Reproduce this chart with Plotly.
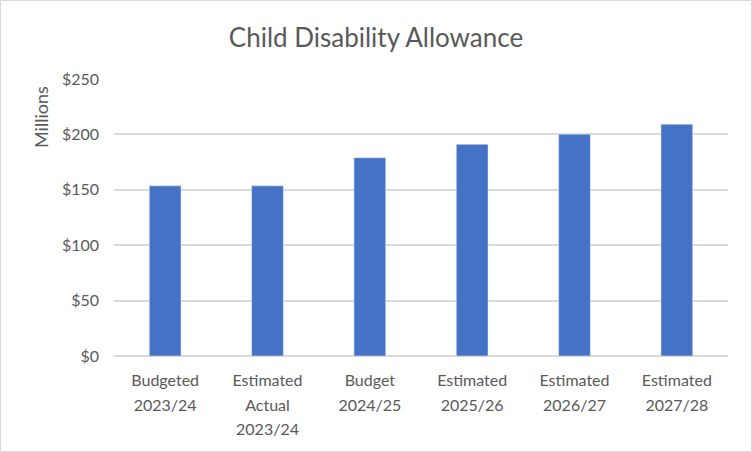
import plotly.graph_objects as go

label_lines = [["Budgeted", "2023/24"], ["Estimated", "Actual", "2023/24"], ["Budget", "2024/25"],
               ["Estimated", "2025/26"], ["Estimated", "2026/27"], ["Estimated", "2027/28"]]
values = [153.6, 153.6, 178.9, 191.0, 200.2, 209.2]
y_ticks = [0, 50, 100, 150, 200, 250]
y_tick_labels = ["$0", "$50", "$100", "$150", "$200", "$250"]

FONT = "Lato"
TXT = "#595959"

categories = ["<br>".join(l) for l in label_lines]
tick_text = ["<br>".join('<span style="font-size:16px">%s</span>' % s for s in l) for l in label_lines]

fig = go.Figure(go.Bar(x=categories, y=values, marker_color="#4472C4", width=0.31))

fig.update_layout(
    width=752, height=452,
    margin=dict(l=114, r=24, t=79, b=96),
    paper_bgcolor="white", plot_bgcolor="white",
    font=dict(family=FONT, color=TXT, size=16),
    title=dict(text="Child Disability Allowance", x=0.5, xanchor="center", xref="container",
               y=1 - 38 / 452, yanchor="middle",
               font=dict(size=26, color=TXT, family=FONT)),
    showlegend=False,
    bargap=0.69,
)
fig.update_xaxes(showgrid=False, showline=False, ticks="", tickfont=dict(size=19, color=TXT),
                 tickvals=categories, ticktext=tick_text, ticklabelstandoff=10)
fig.update_yaxes(range=[0, 250], tickvals=y_ticks, ticktext=y_tick_labels,
                 showgrid=True, gridcolor="#D9D9D9", gridwidth=1.5, zeroline=True,
                 zerolinecolor="#D9D9D9", zerolinewidth=1.5, showline=False, ticks="",
                 tickfont=dict(size=16, color=TXT), ticklabelstandoff=14)
fig.add_annotation(text="Millions", textangle=-90, xref="paper", yref="paper",
                   x=-(114 - 41) / 614, y=1 - (117 - 79) / 277, xanchor="center", yanchor="middle",
                   showarrow=False, font=dict(size=18, color=TXT, family=FONT))
fig.add_shape(type="rect", xref="paper", yref="paper",
              x0=-(114 - 0.5) / 614, x1=1 + (24 - 0.5) / 614,
              y0=-(96 - 0.5) / 277, y1=1 + (79 - 0.5) / 277,
              line=dict(color="#D9D9D9", width=1), fillcolor="rgba(0,0,0,0)")

fig.write_html("out.html")
